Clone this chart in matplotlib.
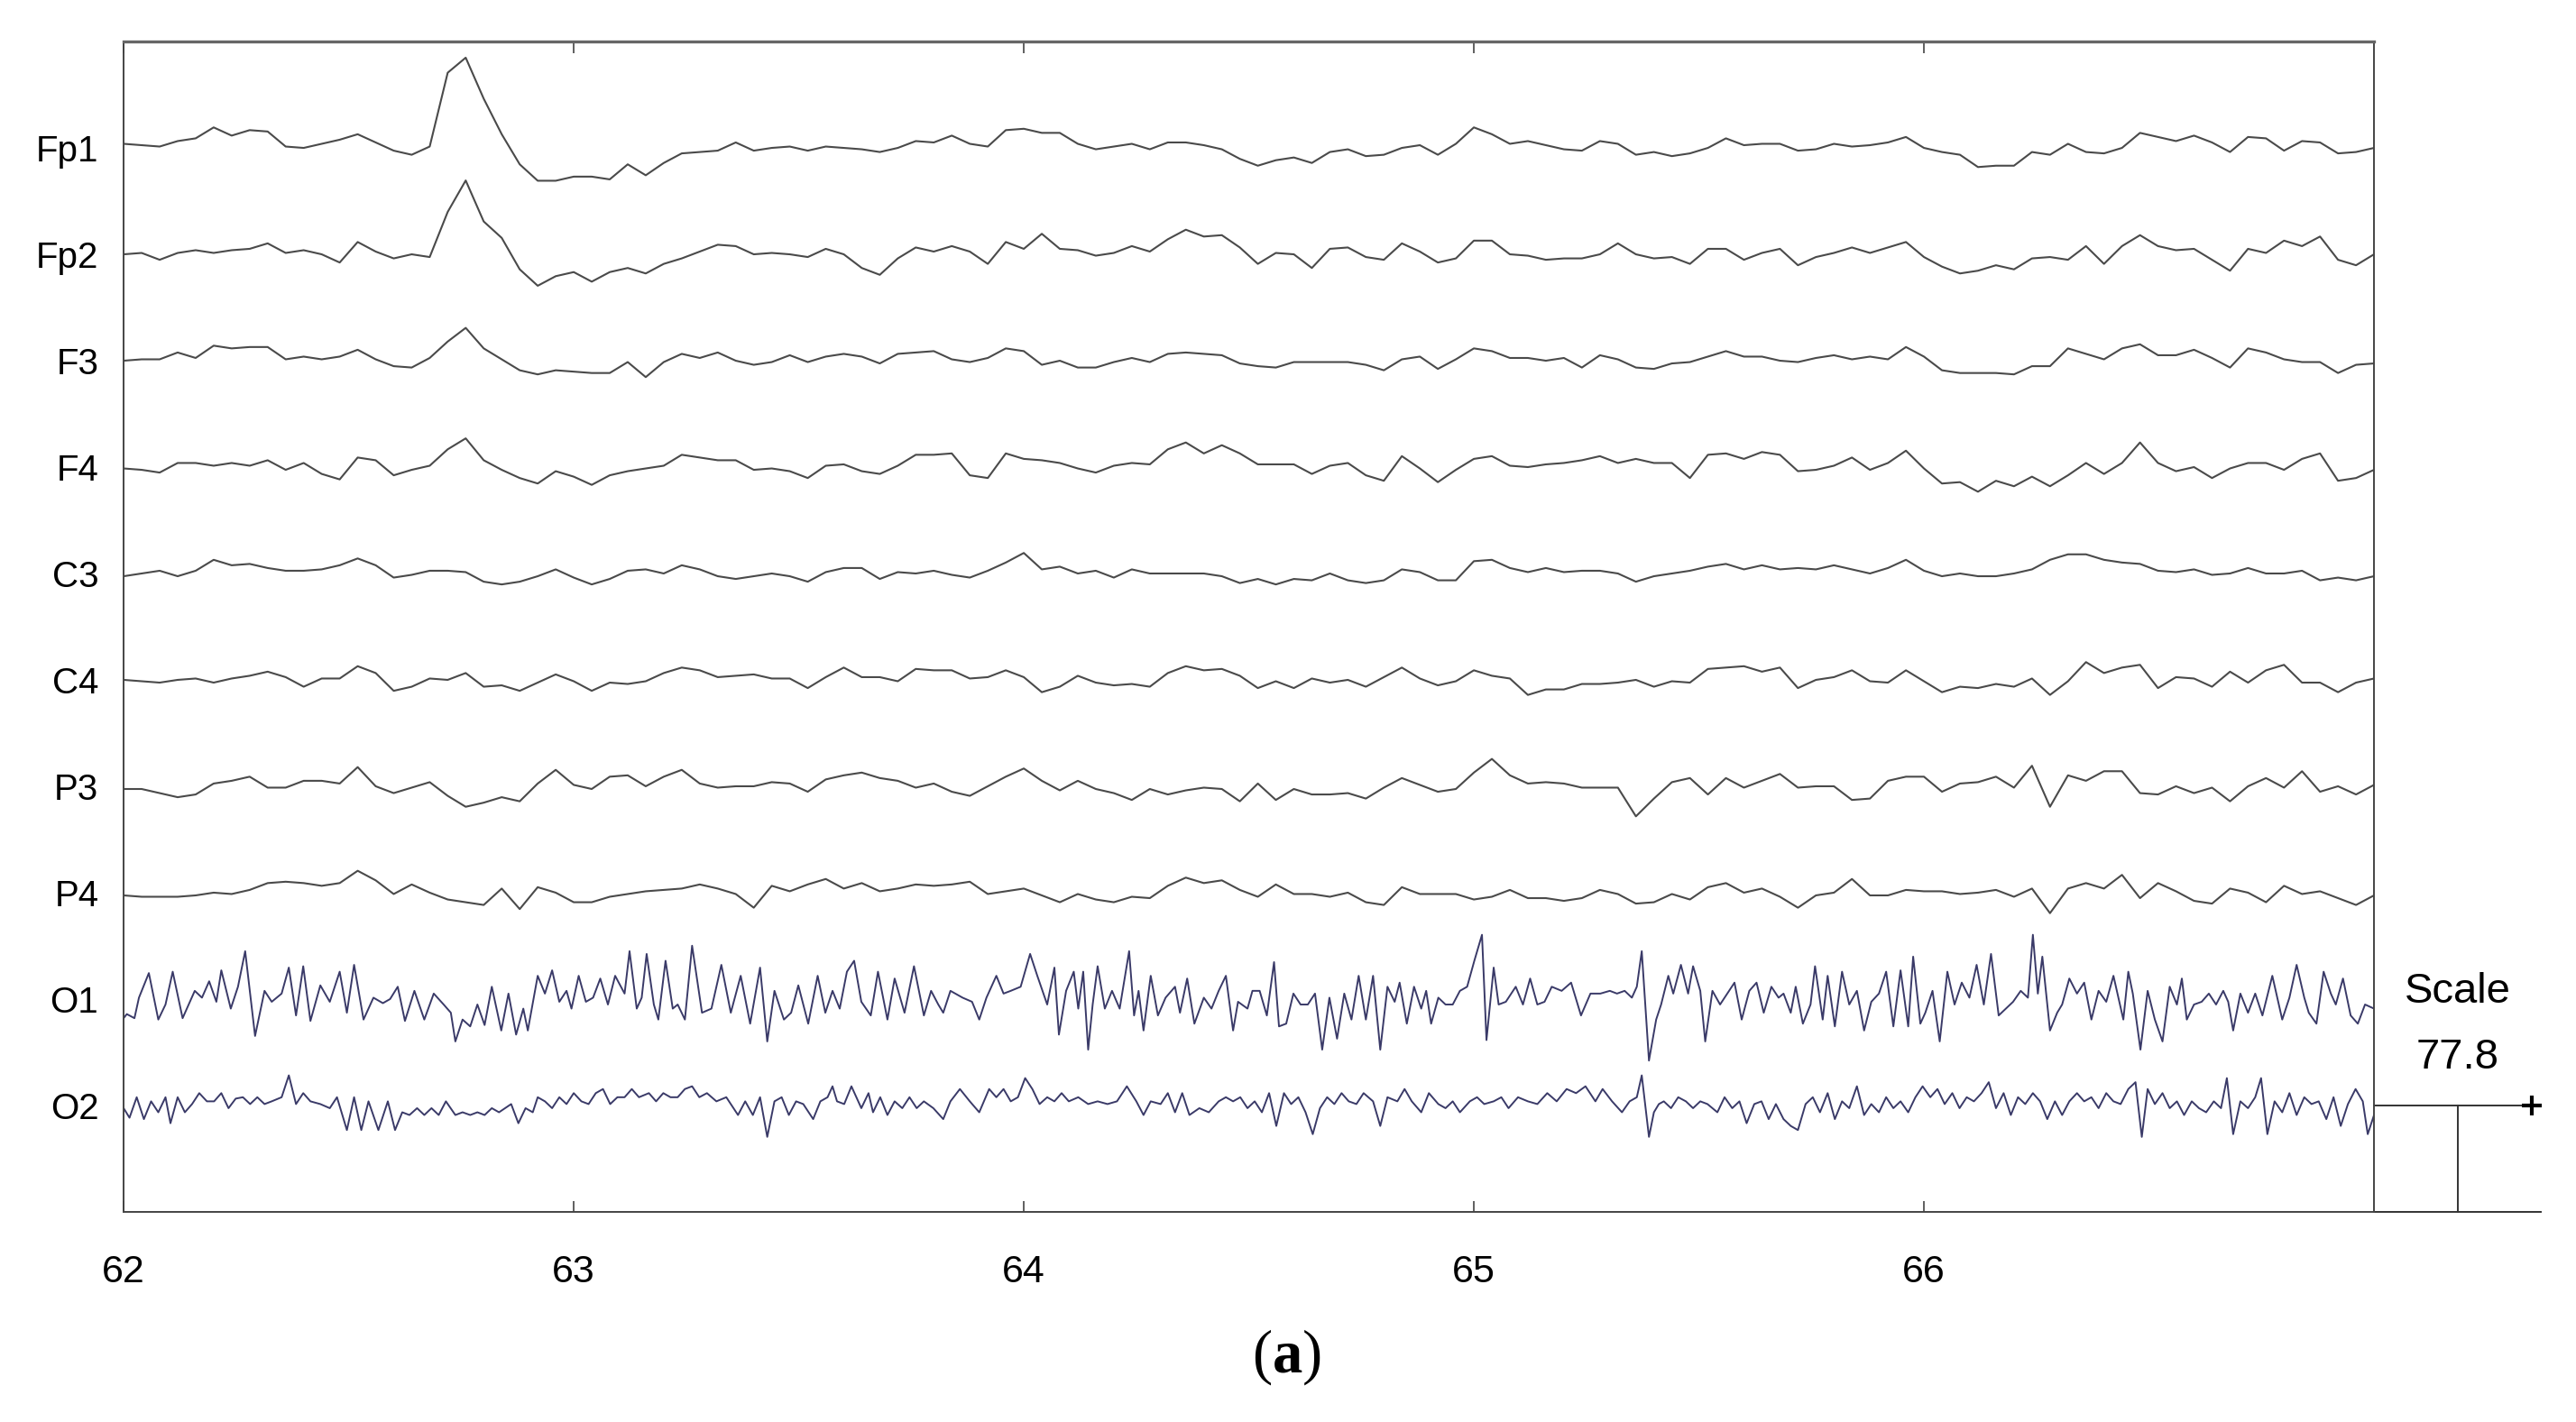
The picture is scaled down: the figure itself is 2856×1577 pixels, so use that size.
import numpy as np
import matplotlib.pyplot as plt

plt.rcParams['font.family'] = ['Liberation Sans', 'DejaVu Sans']
plt.rcParams['mathtext.fontset'] = 'custom'
plt.rcParams['mathtext.rm'] = 'Liberation Serif'
plt.rcParams['mathtext.bf'] = 'Liberation Serif:bold'

CHANNELS = ['Fp1', 'Fp2', 'F3', 'F4', 'C3', 'C4', 'P3', 'P4', 'O1', 'O2']
SCALE_UV = 77.8          # microvolts between two neighbouring traces
T_START, T_END = 62.0, 67.0
X_TICKS = [62, 63, 64, 65, 66]

# frontal / central / parietal channels: one value every 0.04 s (uV)
fp1 = [3, 2, 1, 5, 7, 15, 9, 13, 12, 1, 0, 3, 6, 10, 4, -2, -5, 1, 55, 66,
       36, 10, -12, -24, -24, -21, -21, -23, -12, -20, -11, -4, -3, -2, 4, -2, 0, 1, -2, 1,
       0, -1, -3, 0, 5, 4, 9, 3, 1, 13, 14, 11, 11, 3, -1, 1, 3, -1, 4, 4,
       2, -1, -8, -13, -9, -7, -11, -3, -1, -6, -5, 0, 2, -5, 3, 15, 10, 3, 5, 2,
       -1, -2, 5, 3, -5, -3, -6, -4, 0, 7, 2, 3, 3, -2, -1, 3, 1, 2, 4, 8,
       0, -3, -5, -14, -13, -13, -3, -5, 3, -3, -4, 0, 11, 8, 5, 9, 4, -3, 8, 7,
       -2, 5, 4, -4, -3, 0]
fp2 = [0, 1, -4, 1, 3, 1, 3, 4, 8, 1, 3, 0, -6, 9, 2, -3, 0, -2, 31, 54,
       24, 12, -11, -23, -16, -13, -20, -13, -10, -14, -7, -3, 2, 7, 6, 0, 1, 0, -2, 4,
       0, -10, -15, -3, 5, 2, 6, 2, -7, 9, 4, 15, 4, 3, -1, 1, 6, 2, 11, 18,
       13, 14, 5, -7, 1, 0, -10, 4, 5, -2, -4, 8, 2, -6, -3, 10, 10, 0, -1, -4,
       -3, -3, 0, 8, 0, -3, -2, -7, 4, 4, -4, 1, 4, -8, -2, 1, 5, 1, 5, 9,
       -2, -9, -14, -12, -8, -11, -3, -2, -4, 6, -7, 6, 14, 6, 3, 4, -4, -12, 4, 1,
       10, 6, 13, -4, -8, 0]
f3 = [0, 1, 1, 6, 2, 11, 9, 10, 10, 1, 3, 1, 3, 8, 1, -4, -5, 2, 14, 24,
      9, 1, -7, -10, -7, -8, -9, -9, -1, -12, -1, 5, 2, 6, 0, -3, -1, 4, -1, 3,
      5, 3, -2, 5, 6, 7, 1, -1, 2, 9, 7, -3, 0, -5, -5, -1, 2, -1, 5, 6,
      5, 4, -2, -4, -5, -1, -1, -1, -1, -3, -7, 1, 3, -6, 1, 9, 7, 2, 2, 0,
      2, -5, 4, 1, -5, -6, -2, -1, 3, 7, 3, 3, 0, -1, 2, 4, 1, 3, 1, 10,
      3, -7, -9, -9, -9, -10, -4, -4, 9, 5, 1, 9, 12, 4, 4, 8, 2, -5, 9, 6,
      1, -1, -1, -9, -3, -2]
f4 = [-1, -2, -4, 3, 3, 1, 3, 1, 5, -2, 3, -5, -9, 7, 5, -6, -2, 1, 13, 21,
      5, -2, -8, -12, -3, -7, -13, -6, -3, -1, 1, 9, 7, 5, 5, -2, -1, -3, -8, 1,
      2, -3, -5, 1, 9, 9, 10, -6, -8, 10, 6, 5, 3, -1, -4, 1, 3, 2, 13, 18,
      10, 16, 10, 2, 2, 2, -5, 1, 3, -6, -10, 8, -1, -11, -2, 6, 8, 1, 0, 2,
      3, 5, 8, 3, 6, 3, 3, -8, 9, 10, 6, 11, 9, -3, -2, 1, 7, -2, 3, 12,
      -1, -12, -11, -18, -10, -14, -7, -14, -6, 3, -5, 3, 18, 3, -3, 0, -8, -1, 3, 3,
      -2, 6, 10, -10, -8, -2]
c3 = [-2, 0, 2, -2, 2, 10, 6, 7, 4, 2, 2, 3, 6, 11, 6, -3, -1, 2, 2, 1,
      -6, -8, -6, -2, 3, -3, -8, -4, 2, 3, 0, 6, 3, -2, -4, -2, 0, -2, -6, 1,
      4, 4, -4, 1, 0, 2, -1, -3, 2, 8, 15, 3, 5, 0, 2, -3, 3, 0, 0, 0,
      0, -2, -7, -4, -8, -4, -5, 0, -5, -7, -5, 3, 1, -5, -5, 9, 10, 4, 1, 4,
      1, 2, 2, 0, -6, -2, 0, 2, 5, 7, 3, 6, 3, 4, 3, 6, 3, 0, 4, 10,
      2, -2, 0, -2, -2, 0, 3, 10, 14, 14, 10, 8, 7, 2, 1, 3, -1, 0, 4, 0,
      0, 2, -5, -3, -5, -2]
c4 = [0, -1, -2, 0, 1, -2, 1, 3, 6, 2, -5, 1, 1, 10, 5, -8, -5, 1, 0, 5,
      -5, -4, -8, -2, 4, -1, -8, -2, -3, -1, 5, 9, 7, 2, 3, 4, 1, 1, -6, 2,
      9, 2, 2, -1, 8, 7, 7, 1, 2, 7, 2, -9, -5, 3, -2, -4, -3, -5, 5, 10,
      7, 8, 3, -6, -1, -6, 1, -2, 0, -5, 2, 9, 1, -4, -1, 7, 3, 1, -11, -7,
      -7, -3, -3, -2, 0, -5, -1, -2, 8, 9, 10, 6, 9, -6, 0, 2, 7, -1, -2, 7,
      -1, -9, -5, -6, -3, -5, 1, -11, -1, 13, 5, 9, 11, -6, 2, 1, -5, 6, -2, 7,
      11, -2, -2, -9, -2, 1]
p3 = [-2, -2, -5, -8, -6, 2, 4, 7, -1, -1, 4, 4, 2, 14, 0, -5, -1, 3, -7, -15,
      -12, -8, -11, 2, 12, 1, -2, 7, 8, 0, 7, 12, 2, -1, 0, 0, 3, 2, -4, 5,
      8, 10, 6, 4, -1, 2, -4, -7, 0, 7, 13, 4, -3, 4, -2, -5, -10, -2, -6, -3,
      -1, -2, -11, 2, -10, -2, -6, -6, -5, -9, -1, 6, 1, -4, -2, 10, 20, 8, 2, 3,
      2, -1, -1, -1, -22, -9, 3, 6, -6, 6, -1, 4, 9, -1, 0, 0, -10, -9, 4, 7,
      7, -4, 2, 3, 7, -1, 15, -15, 8, 4, 11, 11, -5, -6, 0, -5, -1, -11, 0, 6,
      -1, 11, -4, 0, -6, 1]
p4 = [-2, -3, -3, -3, -2, 0, -1, 2, 7, 8, 7, 5, 7, 16, 9, -1, 6, 0, -5, -7,
      -9, 3, -12, 4, 0, -7, -7, -3, -1, 1, 2, 3, 6, 3, -1, -11, 5, 1, 6, 10,
      3, 7, 1, 3, 6, 5, 6, 8, -1, 1, 3, -2, -7, -1, -5, -7, -3, -4, 5, 11,
      7, 9, 2, -3, 6, -1, -1, -3, 0, -7, -9, 4, -1, -1, -1, -5, -3, 2, -4, -4,
      -6, -4, 2, -1, -8, -7, -1, -5, 4, 7, 0, 3, -3, -11, -2, 0, 10, -2, -2, 2,
      1, 1, -1, 0, 2, -3, 3, -15, 3, 7, 3, 13, -4, 7, 1, -6, -8, 3, 0, -7,
      5, -1, 1, -4, -9, -2]

# occipital channels: turning points (s, uV)
o1_t = [62.000, 62.007, 62.024, 62.034, 62.056, 62.077, 62.093, 62.109, 62.131, 62.158,
        62.174, 62.190, 62.206, 62.217, 62.238, 62.254, 62.270, 62.292, 62.313, 62.329,
        62.351, 62.367, 62.383, 62.399, 62.415, 62.437, 62.458, 62.480, 62.496, 62.512,
        62.533, 62.555, 62.576, 62.592, 62.609, 62.625, 62.646, 62.668, 62.689, 62.711,
        62.727, 62.737, 62.753, 62.770, 62.786, 62.802, 62.818, 62.839, 62.855, 62.872,
        62.888, 62.898, 62.920, 62.936, 62.952, 62.968, 62.984, 62.995, 63.011, 63.027,
        63.043, 63.059, 63.076, 63.092, 63.113, 63.124, 63.140, 63.151, 63.162, 63.178,
        63.188, 63.204, 63.220, 63.231, 63.247, 63.263, 63.285, 63.306, 63.328, 63.349,
        63.371, 63.392, 63.414, 63.430, 63.446, 63.467, 63.483, 63.499, 63.521, 63.542,
        63.559, 63.575, 63.591, 63.607, 63.623, 63.639,
        63.660, 63.676, 63.697, 63.713, 63.735, 63.756, 63.778, 63.794, 63.810, 63.821,
        63.837, 63.864, 63.885, 63.901, 63.917, 63.939, 63.955, 63.971, 63.993, 64.014,
        64.030, 64.052, 64.068, 64.078, 64.094, 64.111, 64.121, 64.132, 64.143, 64.153,
        64.164, 64.180, 64.196, 64.213, 64.234, 64.245, 64.255, 64.266, 64.282, 64.298,
        64.315, 64.336, 64.347, 64.363, 64.379, 64.400, 64.417, 64.433, 64.449, 64.465,
        64.476, 64.497, 64.508, 64.524, 64.540, 64.556, 64.567, 64.583, 64.599, 64.615,
        64.631, 64.647, 64.663, 64.679, 64.696, 64.712, 64.728, 64.744, 64.760, 64.776,
        64.792, 64.808, 64.824, 64.835, 64.851, 64.867, 64.883, 64.894, 64.905, 64.921,
        64.937, 64.953, 64.969, 64.985, 65.001, 65.018, 65.028, 65.044, 65.055, 65.071,
        65.093, 65.109, 65.125, 65.141, 65.157, 65.173, 65.195, 65.216, 65.238, 65.259,
        65.281, 65.302, 65.318,
        65.335, 65.351, 65.362, 65.373, 65.389, 65.405, 65.416, 65.432, 65.443, 65.460,
        65.476, 65.487, 65.503, 65.514, 65.530, 65.547, 65.563, 65.579, 65.595, 65.612,
        65.628, 65.644, 65.661, 65.677, 65.688, 65.704, 65.715, 65.731, 65.748, 65.758,
        65.775, 65.786, 65.802, 65.818, 65.834, 65.851, 65.867, 65.883, 65.900, 65.916,
        65.932, 65.948, 65.965, 65.976, 65.992, 66.003, 66.019, 66.035, 66.052, 66.068,
        66.084, 66.101, 66.117, 66.133, 66.149, 66.166, 66.182, 66.198, 66.215, 66.231,
        66.242, 66.253, 66.263, 66.280, 66.296, 66.307, 66.323, 66.340, 66.356, 66.372,
        66.388, 66.405, 66.421, 66.443, 66.454, 66.464, 66.481, 66.497, 66.513, 66.530,
        66.546, 66.562, 66.573, 66.584, 66.600, 66.617, 66.633, 66.649, 66.665, 66.676,
        66.687, 66.703, 66.720, 66.736, 66.752, 66.774, 66.796, 66.812, 66.828, 66.845,
        66.855, 66.872, 66.888, 66.904, 66.915, 66.931, 66.948, 66.964, 66.980, 67.000]
o1_uv = [-14, -11, -14, 1, 19, -15, -4, 20, -14, 6,
         1, 13, -2, 21, -7, 9, 35, -27, 6, -2,
         4, 23, -12, 24, -16, 10, -2, 20, -10, 25,
         -15, 1, -3, 0, 9, -16, 6, -15, 4, -4,
         -10, -31, -15, -20, -4, -19, 9, -23, 4, -26,
         -7, -23, 17, 4, 21, -2, 6, -7, 17, -2,
         1, 15, -4, 17, 4, 35, -7, 1, 33, -4,
         -15, 28, -7, -4, -15, 39, -10, -7, 25, -10,
         17, -18, 23, -31, 6, -15, -10, 10, -18, 17,
         -10, 6, -7, 20, 28, -2,
         -12, 20, -15, 15, -10, 24, -12, 6, -4, -10,
         6, 1, -2, -15, 1, 17, 4, 6, 9, 33,
         17, -4, 23, -26, 6, 20, -7, 20, -37, -4,
         24, -7, 6, -7, 35, -12, 6, -23, 17, -12,
         1, 9, -10, 15, -18, 1, -7, 6, 17, -23,
         -2, -7, 6, 6, -12, 27, -20, -18, 4, -4,
         -4, 4, -37, 1, -29, 4, -15, 17, -15, 17,
         -37, 9, -2, 12, -18, 9, -7, 6, -18, 1,
         -4, -4, 6, 9, 28, 47, -30, 23, -4, -2,
         9, -4, 15, -4, -2, 9, 6, 12, -12, 4,
         4, 6, 4,
         6, 1, 9, 35, -45, -15, -4, 17, 4, 25,
         4, 24, 6, -31, 6, -4, 4, 12, -15, 6,
         12, -10, 9, 1, 4, -10, 9, -18, -4, 24,
         -15, 17, -20, 20, -4, 6, -23, -2, 4, 20,
         -20, 21, -20, 31, -18, -10, 6, -31, 20, -4,
         12, 1, 25, -4, 33, -12, -7, -2, 6, 1,
         47, 4, 31, -23, -10, -4, 15, 4, 12, -15,
         6, -2, 17, -15, 20, 4, -37, 6, -15, -31,
         9, -4, 15, -15, -4, -2, 4, -4, 6, -2,
         -23, 4, -10, 4, -12, 17, -15, 1, 25, 1,
         -10, -18, 20, 4, -4, 15, -12, -18, -4, -7]
o2_t = [62.000, 62.013, 62.029, 62.045, 62.061, 62.077, 62.093, 62.104, 62.120, 62.136,
        62.152, 62.168, 62.185, 62.201, 62.217, 62.233, 62.249, 62.265, 62.281, 62.297,
        62.313, 62.329, 62.351, 62.367, 62.383, 62.399, 62.415, 62.437, 62.458, 62.474,
        62.496, 62.512, 62.528, 62.544, 62.566, 62.587, 62.603, 62.619, 62.635, 62.652,
        62.668, 62.684, 62.700, 62.716, 62.737, 62.753, 62.770, 62.786, 62.802, 62.818,
        62.834, 62.861, 62.877, 62.893, 62.909, 62.920, 62.936, 62.952, 62.968, 62.984,
        63.000, 63.017, 63.033, 63.049, 63.065, 63.081, 63.097, 63.113, 63.129, 63.145,
        63.167, 63.183, 63.199, 63.215, 63.231, 63.247, 63.263, 63.279, 63.296, 63.317,
        63.339, 63.349, 63.365, 63.381, 63.398, 63.414, 63.430, 63.446, 63.462, 63.478,
        63.494, 63.510, 63.532, 63.548, 63.564, 63.575, 63.585, 63.601, 63.617, 63.639,
        63.655,
        63.665, 63.681, 63.697, 63.713, 63.730, 63.746, 63.762, 63.778, 63.799, 63.821,
        63.837, 63.858, 63.880, 63.901, 63.923, 63.939, 63.955, 63.971, 63.987, 64.003,
        64.019, 64.035, 64.052, 64.068, 64.084, 64.100, 64.121, 64.143, 64.164, 64.186,
        64.207, 64.229, 64.250, 64.266, 64.282, 64.304, 64.320, 64.336, 64.352, 64.368,
        64.390, 64.411, 64.433, 64.449, 64.465, 64.481, 64.497, 64.513, 64.529, 64.545,
        64.561, 64.578, 64.594, 64.610, 64.626, 64.642, 64.658, 64.674, 64.690, 64.706,
        64.722, 64.739, 64.755, 64.776, 64.792, 64.808, 64.830, 64.846, 64.862, 64.883,
        64.900, 64.921, 64.937, 64.953, 64.969, 64.991, 65.007, 65.023, 65.044, 65.061,
        65.077, 65.098, 65.120, 65.141, 65.163, 65.184, 65.206, 65.227, 65.248, 65.270,
        65.286, 65.307,
        65.329, 65.346, 65.362, 65.373, 65.389, 65.400, 65.411, 65.422, 65.438, 65.454,
        65.471, 65.487, 65.503, 65.519, 65.541, 65.557, 65.574, 65.590, 65.606, 65.623,
        65.639, 65.655, 65.671, 65.688, 65.704, 65.720, 65.737, 65.753, 65.769, 65.786,
        65.802, 65.818, 65.834, 65.851, 65.867, 65.883, 65.900, 65.916, 65.932, 65.948,
        65.965, 65.981, 65.997, 66.014, 66.030, 66.046, 66.063, 66.079, 66.095, 66.111,
        66.128, 66.144, 66.160, 66.177, 66.193, 66.209, 66.225, 66.242, 66.258, 66.274,
        66.291, 66.307, 66.323, 66.340, 66.356, 66.372, 66.388, 66.405, 66.421, 66.437,
        66.454, 66.470, 66.484, 66.497, 66.513, 66.530, 66.546, 66.562, 66.578, 66.595,
        66.611, 66.627, 66.644, 66.660, 66.673, 66.687, 66.703, 66.720, 66.736, 66.749,
        66.763, 66.779, 66.796, 66.812, 66.828, 66.845, 66.861, 66.877, 66.894, 66.910,
        66.926, 66.942, 66.959, 66.975, 66.986, 67.000]
o2_uv = [-2, -9, 6, -10, 3, -5, 6, -13, 6, -5,
         1, 9, 3, 3, 9, -2, 5, 6, 1, 6,
         1, 3, 6, 22, 1, 9, 3, 1, -2, 6,
         -18, 6, -18, 3, -18, 3, -18, -5, -7, -2,
         -7, -2, -7, 3, -7, -5, -7, -5, -7, -2,
         -5, 1, -13, -2, -5, 6, 3, -2, 6, 1,
         9, 3, 1, 9, 12, 1, 6, 6, 12, 6,
         9, 3, 9, 6, 6, 12, 14, 6, 9, 3,
         6, 1, -7, 3, -7, 6, -23, 3, 6, -7,
         3, 1, -10, 3, 6, 14, 3, 1, 14, -2,
         9,
         -5, 6, -7, 3, -2, 6, -2, 3, -2, -10,
         3, 12, 3, -5, 12, 6, 12, 3, 6, 20,
         12, 1, 6, 3, 9, 3, 6, 1, 3, 1,
         3, 14, 3, -7, 3, 1, 9, -5, 9, -7,
         -2, -5, 3, 6, 3, 6, -2, 3, -5, 9,
         -15, 9, 1, 6, -5, -21, -2, 6, 1, 9,
         3, 1, 9, 3, -15, 6, 3, 12, 3, -5,
         9, 1, -2, 3, -5, 3, 6, 1, 3, 6,
         -2, 6, 3, 1, 9, 3, 12, 9, 14, 3,
         12, 3,
         -5, 3, 6, 22, -23, -5, 1, 3, -2, 6,
         3, -2, 3, 1, -5, 6, -2, 3, -13, 1,
         3, -10, 1, -10, -15, -18, 1, 6, -5, 9,
         -10, 3, -2, 14, -7, 1, -5, 6, -2, 3,
         -5, 6, 14, 6, 12, 1, 9, -2, 6, 3,
         9, 17, -2, 9, -7, 6, 1, 9, 3, -10,
         3, -7, 3, 9, 3, 6, -2, 9, 3, 1,
         12, 17, -23, 12, 1, 9, -2, 3, -7, 3,
         -2, -5, 3, -2, 20, -21, 3, -2, 6, 20,
         -21, 3, -5, 9, -7, 6, 1, 3, -10, 6,
         -15, 1, 12, 3, -21, -7]

UPPER = [fp1, fp2, f3, f4, c3, c4, p3, p4]
GREY = '#4a4a4a'
NAVY = '#3a3a68'


def draw_traces(ax):
    """Stack every channel one SCALE_UV apart, Fp1 on top."""
    n = len(CHANNELS)
    for i, vals in enumerate(UPPER):
        t = np.linspace(T_START, T_END, len(vals))
        ax.plot(t, n - i + np.asarray(vals) / SCALE_UV, color=GREY, lw=1.5)
    for i, (t, vals) in enumerate([(o1_t, o1_uv), (o2_t, o2_uv)]):
        assert len(t) == len(vals)
        level = n - len(UPPER) - i
        ax.plot(t, level + np.asarray(vals) / SCALE_UV, color=NAVY, lw=1.4)


def draw_scale(ax):
    """Little calibration bar to the right of the traces (one trace gap)."""
    x0, xm, x1 = T_END, T_END + 0.186, T_END + 0.37
    kw = dict(color='#333333', lw=1.4, clip_on=False)
    ax.plot([x0, x1], [1, 1], **kw)
    ax.plot([x0, x1], [0, 0], **kw)
    ax.plot([xm, xm], [0, 1], **kw)
    ax.plot([x1 - 0.02], [1], marker='+', ms=16, mew=3, color='k', clip_on=False)
    ax.text(xm, 2.07, 'Scale', ha='center', va='center', fontsize=34)
    ax.text(xm, 1.45, f'{SCALE_UV}', ha='center', va='center', fontsize=34)


fig = plt.figure(figsize=(28.56, 15.77), dpi=100)
ax = fig.add_axes([0.048, 0.1478, 0.8736, 0.823])

draw_traces(ax)
draw_scale(ax)

ax.set_xlim(T_START, T_END)
ax.set_ylim(0, len(CHANNELS) + 1)
ax.set_xticks(X_TICKS)
ax.set_xticklabels([str(x) for x in X_TICKS])
ax.set_yticks(range(len(CHANNELS), 0, -1))
ax.set_yticklabels(CHANNELS)
ax.tick_params(axis='x', direction='in', length=9, width=1.2, color='#444444',
               top=True, labelsize=31, pad=34)
ax.tick_params(axis='y', length=0, labelsize=29, pad=20)
for sp in ax.spines.values():
    sp.set_color('#444444')
    sp.set_linewidth(1.4)
ax.spines['top'].set_linewidth(2.4)
ax.spines['top'].set_color('#666666')

fig.text(0.4993, 0.0457, r'($\mathbf{a}$)', ha='center', va='center',
         fontsize=48, family='Liberation Serif')

fig.savefig('out.png', dpi=100)
